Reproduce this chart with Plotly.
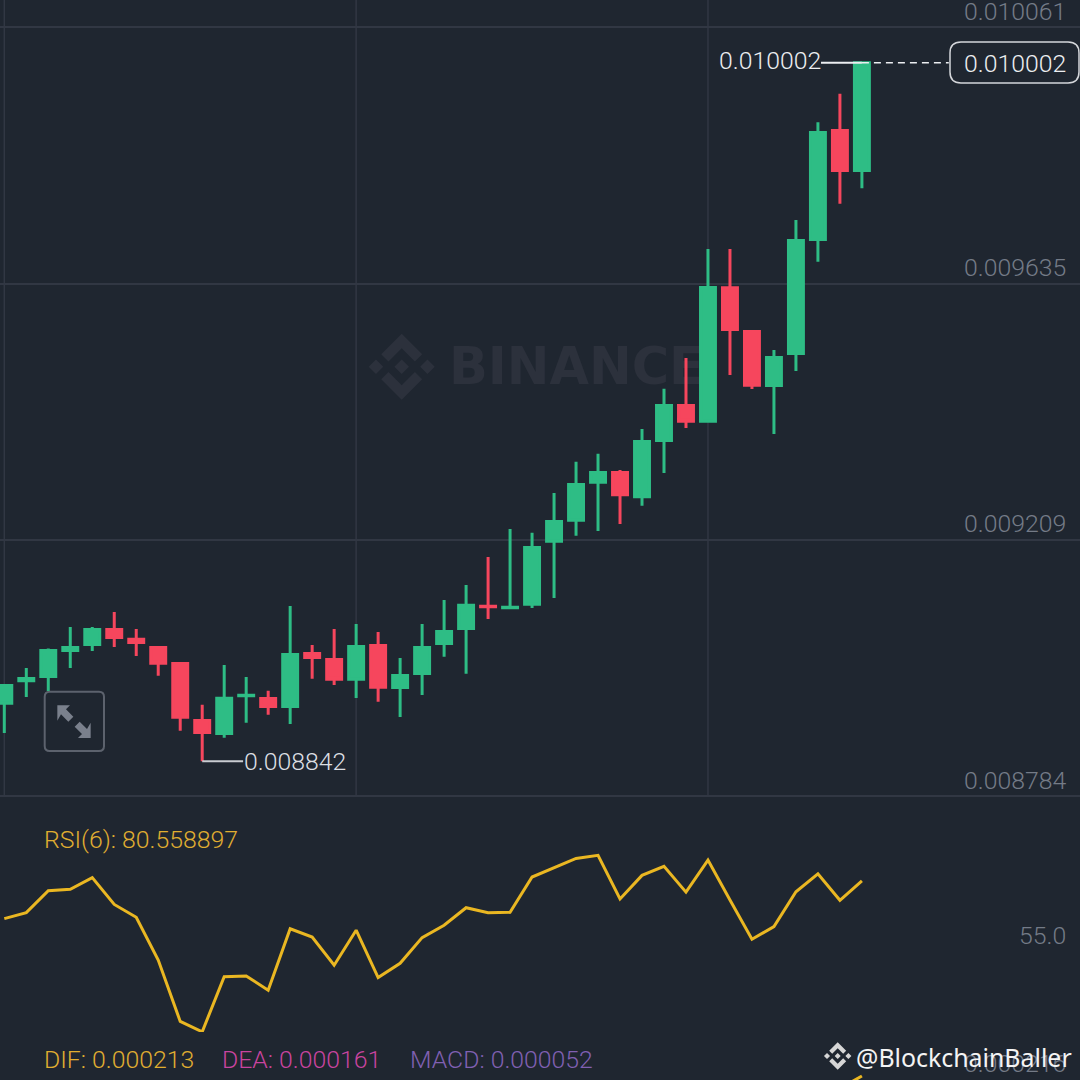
import plotly.graph_objects as go

# ---------- data ----------
candle_index = list(range(40))
opens = [0.0089385,0.0089757,0.0089828,0.0090260,0.0090360,0.0090609,0.0090448,0.0090310,0.0090044,0.0089097,
         0.0088881,0.0089510,0.0089463,0.0089330,0.0090210,0.0090110,0.0089783,0.0090343,0.0089645,0.0089878,
         0.0090376,0.0090625,0.0090994,0.0090971,0.0091029,0.0092075,0.0092424,0.0093055,0.0093216,0.0092813,
         0.0093748,0.0094329,0.0094068,0.0096284,0.0095558,0.0094661,0.0095193,0.0097086,0.0098896,0.0098232]
closes = [0.0089679,0.0089795,0.0090260,0.0090310,0.0090609,0.0090476,0.0090393,0.0090049,0.0089152,0.0088898,
          0.0089468,0.0089516,0.0089330,0.0090194,0.0090144,0.0089783,0.0090326,0.0089650,0.0089845,0.0090310,
          0.0090575,0.0091012,0.0090988,0.0090977,0.0091971,0.0092402,0.0093017,0.0093216,0.0092846,0.0093731,
          0.0094329,0.0094068,0.0096289,0.0095591,0.0094666,0.0095126,0.0097069,0.0098863,0.0098232,0.010002]
highs = [0.0089704,0.0089969,0.0090293,0.0090650,0.0090650,0.0090899,0.0090617,0.0090335,0.0090069,0.0089360,
         0.0090019,0.0089820,0.0089592,0.0090999,0.0090351,0.0090617,0.0090700,0.0090567,0.0090135,0.0090700,
         0.0091099,0.0091348,0.0091813,0.0092278,0.0092216,0.0092876,0.0093396,0.0093528,0.0093258,0.0093939,
         0.0094608,0.0095118,0.0096928,0.0096928,0.0095583,0.0095251,0.0097410,0.0099032,0.0099507,0.010002]
lows = [0.0088890,0.0089488,0.0089587,0.0089969,0.0090252,0.0090318,0.0090169,0.0089841,0.0088928,0.008842,
        0.0088812,0.0089061,0.0089194,0.0089039,0.0089792,0.0089687,0.0089471,0.0089410,0.0089156,0.0089521,
        0.0090157,0.0089875,0.0090783,0.0090949,0.0090966,0.0091132,0.0092167,0.0092245,0.0092361,0.0092665,
        0.0093208,0.0093955,0.0094043,0.0094835,0.0094603,0.0093856,0.0094902,0.0096717,0.0097680,0.0097936]
rsi_values = [66.8,69.0,77.0,77.5,81.8,72.0,67.3,51.7,29.3,25.5,
              45.6,45.9,40.7,63.1,60.1,49.8,62.6,45.3,50.5,59.9,
              64.4,70.8,69.0,69.1,82.0,85.4,88.8,89.9,74.0,82.6,
              85.9,76.5,88.2,73.6,59.3,63.9,76.6,83.2,73.5,80.56]
dif_index = [38, 39]
dif_values = [0.0002005, 0.000213]
price_ticks = [0.010061, 0.009635, 0.009209, 0.008784]
price_tick_labels = ["0.010061", "0.009635", "0.009209", "0.008784"]
grid_candles = [0, 16, 32]
last_price = 0.010002
low_price = 0.008842
low_candle = 9
last_candle = 39

# ---------- styling ----------
BG = "#1f2630"
GRID = "#313743"
GREEN = "#2ebd85"
RED = "#f6465d"
AXIS_TXT = "#747b87"
LIGHT = "#eceef1"
YEL = "#eab722"
FONT = "Roboto"


def P(x, y):
    return f"{x/1080:.5f} {1-y/1080:.5f}"


def poly(points):
    return "M " + " L ".join(P(x, y) for x, y in points) + " Z"


def rrect(x0, y0, x1, y1, r):
    s = f"M {P(x0+r,y0)} L {P(x1-r,y0)} Q {P(x1,y0)} {P(x1,y0+r)} L {P(x1,y1-r)} Q {P(x1,y1)} {P(x1-r,y1)}"
    s += f" L {P(x0+r,y1)} Q {P(x0,y1)} {P(x0,y1-r)} L {P(x0,y0+r)} Q {P(x0,y0)} {P(x0+r,y0)} Z"
    return s


def logo(cx, cy, R):
    def T(pts):
        return poly([(cx+a*R, cy+b*R) for a, b in pts])
    d = 0.22
    parts = [
        T([(0, -d), (d, 0), (0, d), (-d, 0)]),
        T([(-0.78+0, -d), (-0.78+d, 0), (-0.78, d), (-0.78-d, 0)]),
        T([(0.78, -d), (0.78+d, 0), (0.78, d), (0.78-d, 0)]),
        T([(0, -1), (0.62, -0.38), (0.40, -0.16), (0, -0.56), (-0.40, -0.16), (-0.62, -0.38)]),
        T([(0, 1), (0.62, 0.38), (0.40, 0.16), (0, 0.56), (-0.40, 0.16), (-0.62, 0.38)]),
    ]
    return " ".join(parts)


# pixel -> data mappings of the panels
X_RANGE = [-4.3/21.99, (1080-4.3)/21.99]
Y_RANGE = [0.00831263, 0.01010634]

fig = go.Figure()

# watermark lives on the base axes so that candles paint over it
fig.add_trace(go.Scatter(x=[449], y=[371], mode="text", text=["BINANCE"], textposition="middle right",
                         textfont=dict(family="DejaVu Sans", size=51, color="#2c313c", weight=700),
                         hoverinfo="skip", xaxis="x", yaxis="y"))

fig.add_trace(go.Candlestick(
    x=candle_index, open=opens, high=highs, low=lows, close=closes, xaxis="x2", yaxis="y2",
    whiskerwidth=0,
    increasing=dict(line=dict(color=GREEN, width=3), fillcolor=GREEN),
    decreasing=dict(line=dict(color=RED, width=3), fillcolor=RED),
))

fig.add_trace(go.Scatter(x=candle_index, y=rsi_values, mode="lines", line=dict(color=YEL, width=3),
                         xaxis="x3", yaxis="y3", hoverinfo="skip"))
fig.add_trace(go.Scatter(x=dif_index, y=dif_values, mode="lines", line=dict(color=YEL, width=3),
                         xaxis="x4", yaxis="y4", hoverinfo="skip"))

hidden = dict(visible=False, fixedrange=True)
shapes = [
    # full-height vertical grid lines
    *[dict(type="line", xref="x2", yref="paper", x0=i, x1=i, y0=0, y1=1,
           line=dict(color=GRID, width=1.5), layer="below") for i in grid_candles],
    # panel separator under the RSI panel
    dict(type="line", xref="paper", yref="paper", x0=0, x1=1, y0=1-1032/1080, y1=1-1032/1080,
         line=dict(color=GRID, width=2), layer="below"),
    # watermark logo
    dict(type="path", xref="paper", yref="paper", path=logo(401.7, 366.7, 33), fillcolor="#2c313c",
         line=dict(width=0), layer="below"),
    # last price leader lines
    dict(type="line", xref="x2", yref="y2", x0=last_candle-1.86, x1=last_candle, y0=last_price, y1=last_price,
         line=dict(color=LIGHT, width=2)),
    dict(type="line", xref="x2", yref="y2", x0=last_candle, x1=last_candle+3.95, y0=last_price, y1=last_price,
         line=dict(color=LIGHT, width=1.5, dash="7px,5px")),
    # last price box
    dict(type="path", xref="paper", yref="paper", path=rrect(950, 42, 1079, 83, 11), fillcolor=BG,
         line=dict(color="#d4d6da", width=1.5)),
    # low leader
    dict(type="line", xref="x2", yref="y2", x0=low_candle, x1=low_candle+1.86, y0=low_price, y1=low_price,
         line=dict(color="#c9ccd1", width=2)),
    # expand button
    dict(type="path", xref="paper", yref="paper", path=rrect(44.7, 691.7, 104, 751, 5), fillcolor=BG,
         line=dict(color="#5c626d", width=2)),
    dict(type="path", xref="paper", yref="paper",
         path=poly([(30+a/3, 680+b/3) for a, b in [(82, 76), (120, 76), (108, 88), (130, 110), (115, 125), (93, 103), (82, 122)]])
         + " " + poly([(30+(264-a)/3, 680+(250-b)/3) for a, b in [(82, 76), (120, 76), (108, 88), (130, 110), (115, 125), (93, 103), (82, 122)]]),
         fillcolor="#7a808c", line=dict(width=0)),
    # corner logo
    dict(type="path", xref="paper", yref="paper", path=logo(837.7, 1056, 13.7), fillcolor="#d6d6d6", line=dict(width=0)),
]


def note(text, x, y, color, anchor="left", size=24.8, font=FONT, weight=300):
    return dict(text=text, xref="paper", yref="paper", x=x/1080, y=1-y/1080, xanchor=anchor, yanchor="middle",
                showarrow=False, font=dict(family=font, size=size, color=color, weight=weight), borderpad=0, borderwidth=0)


annotations = [note(lbl, 1066, py, AXIS_TXT, "right") for lbl, py in zip(price_tick_labels, [11.5, 267.5, 523.5, 780.5])]
annotations += [
    note("55.0", 1066, 935.5, AXIS_TXT, "right"),
    note("0.000216", 1066, 1063, AXIS_TXT, "right"),
    note("0.010002", 821, 61, LIGHT, "right"),
    note("0.010002", 1066, 63, LIGHT, "right"),
    note("0.008842", 244, 761, "#dcdfe3", "left"),
    note("RSI(6): 80.558897", 44, 839.3, "#e0ae30"),
    note("DIF: 0.000213", 44, 1059.8, "#e0ae30"),
    note("DEA: 0.000161", 222, 1059.8, "#c8449f"),
    note("MACD: 0.000052", 410, 1059.8, "#8060b2"),
    note("@BlockchainBaller", 855.5, 1057, "#f4f4f4", "left", 24.9, "Noto Sans", 400),
]

fig.update_layout(
    width=1080, height=1080, margin=dict(l=0, r=0, t=0, b=0), autosize=False,
    paper_bgcolor=BG, plot_bgcolor=BG, showlegend=False, boxgap=0.03,
    hovermode=False, shapes=shapes, annotations=annotations,
    xaxis=dict(range=[0, 1080], domain=[0, 1], anchor="y", **hidden),
    yaxis=dict(range=[1080, 0], domain=[0, 1], anchor="x", **hidden),
    xaxis2=dict(range=X_RANGE, overlaying="x", anchor="y2", showticklabels=False,
                showgrid=False, zeroline=False, showline=False, ticks="",
                rangeslider=dict(visible=False), fixedrange=True),
    yaxis2=dict(range=Y_RANGE, overlaying="y", anchor="x2", tickvals=price_ticks, showticklabels=False,
                showgrid=True, gridcolor=GRID, gridwidth=1.5, zeroline=False, showline=False, ticks="",
                fixedrange=True),
    xaxis3=dict(range=X_RANGE, domain=[0, 1], anchor="y3", **hidden),
    yaxis3=dict(range=[25.435, 111.21], domain=[1-1032/1080, 1-797/1080], anchor="x3", **hidden),
    xaxis4=dict(range=X_RANGE, domain=[0, 1], anchor="y4", **hidden),
    yaxis4=dict(range=[0.000209, 0.000257], domain=[0, 48/1080], anchor="x4", **hidden),
)

fig.write_html("out.html", config=dict(displayModeBar=False),
               post_script="document.body.style.margin='0';document.body.style.overflow='hidden';")
